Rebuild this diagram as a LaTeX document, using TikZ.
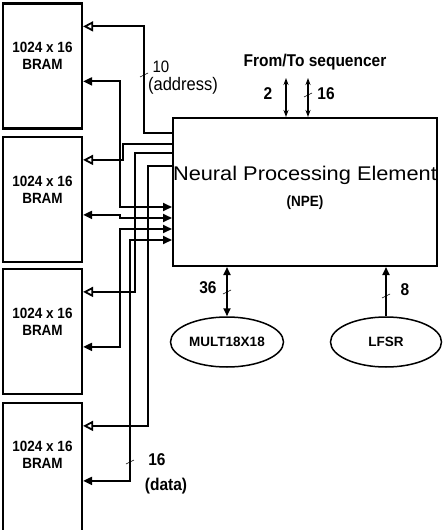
\documentclass[tikz,border=0pt]{standalone}
\usepackage{fontspec}
\setmainfont{Liberation Sans}
\usetikzlibrary{arrows.meta,shapes.geometric,positioning}
\tikzset{
  bram/.style = {rectangle, draw=black, line width=2.2pt, minimum width=79pt, minimum height=125pt, inner sep=0pt},
  bramtext/.style = {align=center, inner sep=0pt, yscale=1.1, font=\bfseries\fontsize{13.5}{15.5}\selectfont},
  npebox/.style = {rectangle, draw=black, line width=2pt, minimum width=264pt, minimum height=148pt, inner sep=0pt},
  npetitle/.style = {inner sep=0pt, xscale=1.1, font=\fontsize{19.8}{22}\selectfont},
  npesub/.style = {inner sep=0pt, yscale=1.1, font=\bfseries\fontsize{13.5}{16}\selectfont},
  unit/.style = {ellipse, draw=black, line width=1.5pt, minimum width=113pt, minimum height=50pt, inner sep=0pt, font=\bfseries\fontsize{13.5}{16}\selectfont},
  wire/.style = {line width=2pt},
  addrwire/.style = {wire, {Triangle[open, length=10pt, width=10pt, line width=1.8pt]}-},
  datawire/.style = {wire, {Triangle[length=9pt, width=8pt]}-{Triangle[length=9pt, width=8pt]}},
  seqarrow/.style = {line width=1.3pt, {Stealth[length=7pt, width=5pt]}-{Stealth[length=7pt, width=5pt]}},
  portarrow/.style = {line width=1.8pt, {Triangle[length=8pt, width=7pt]}-{Triangle[length=8pt, width=7pt]}},
  buslabel/.style = {inner sep=0pt, yscale=1.1, font=\bfseries\fontsize{15.5}{18}\selectfont},
  thinlabel/.style = {inner sep=0pt, yscale=1.1, font=\fontsize{15}{18}\selectfont},
  tickmark/.style = {line width=0.6pt}
}
\begin{document}
\begin{tikzpicture}[x=1pt, y=-1pt]
\useasboundingbox (0,0) rectangle (444,530);
% block RAMs
\node [bram] (bram1) at (42.5,66) {};
\node [bram] (bram2) at (42.5,199.5) {};
\node [bram] (bram3) at (42.5,331.5) {};
\node [bram, minimum height=140pt] (bram4) at (42.5,473) {};
\foreach \k in {1,2,3}
  \node [bramtext] at ([yshift=10pt]bram\k.north |- bram\k.center) {1024 x 16\\BRAM};
\node [bramtext] at ([yshift=-53pt]bram4.north) {1024 x 16\\BRAM};
% processing element
\node [npebox] (npe) at (305,192) {};
\node [npetitle] at ([yshift=17pt]npe.center) {Neural Processing Element};
\node [npesub] at ([yshift=-11pt]npe.center) {(NPE)};
\node [unit] (mult) at (227,342) {MULT18X18};
\node [unit, minimum width=111pt] (lfsr) at (386,342) {LFSR};
% address and data buses
\foreach \k/\ay/\ax/\dy/\dx in {1/133/144/207/120, 2/144/123/218/120, 3/153/135/229/120, 4/166/148/240/130}
{
  \draw [addrwire] ([yshift=-24pt]bram\k.north east) -| (\ax,\ay) -- (npe.west |- 0,\ay);
  \draw [datawire] ([yshift=-79pt]bram\k.north east) -| (\dx,\dy) -- (npe.west |- 0,\dy);
}
\draw [tickmark] (144,75) +(-4,2) -- +(4,-2);
\node [thinlabel] (addrw) at (161,67) {10};
\node [thinlabel, font=\fontsize{16.5}{18}\selectfont] (addrt) at (183,86) {(address)};
\draw [tickmark] (130,462) +(-4,2) -- +(4,-2);
\node [buslabel] (dataw) at (157,460) {16};
\node [buslabel] (datat) at (166,486) {(data)};
% sequencer
\node [buslabel] (seq) at (315,62) {From/To sequencer};
\coordinate (seqa) at (286,78);
\coordinate (seqb) at (308,78);
\draw [seqarrow] (npe.north -| seqa) -- (seqa);
\draw [seqarrow] (npe.north -| seqb) -- (seqb);
\draw [tickmark] (308,95) +(-4,2) -- +(4,-2);
\node [buslabel] at (268,94) {2};
\node [buslabel] at (326,94) {16};
% multiplier and LFSR
\draw [portarrow] (npe.south -| mult.north) -- (mult.north);
\draw [portarrow, {Triangle[length=8pt, width=7pt]}-] (npe.south -| lfsr.north) -- (lfsr.north);
\draw [tickmark] (227,292) +(-4,2) -- +(4,-2);
\draw [tickmark] (386,296) +(-4,2) -- +(4,-2);
\node [buslabel] at (208,288) {36};
\node [buslabel] at (405,290) {8};
\end{tikzpicture}
\end{document}
